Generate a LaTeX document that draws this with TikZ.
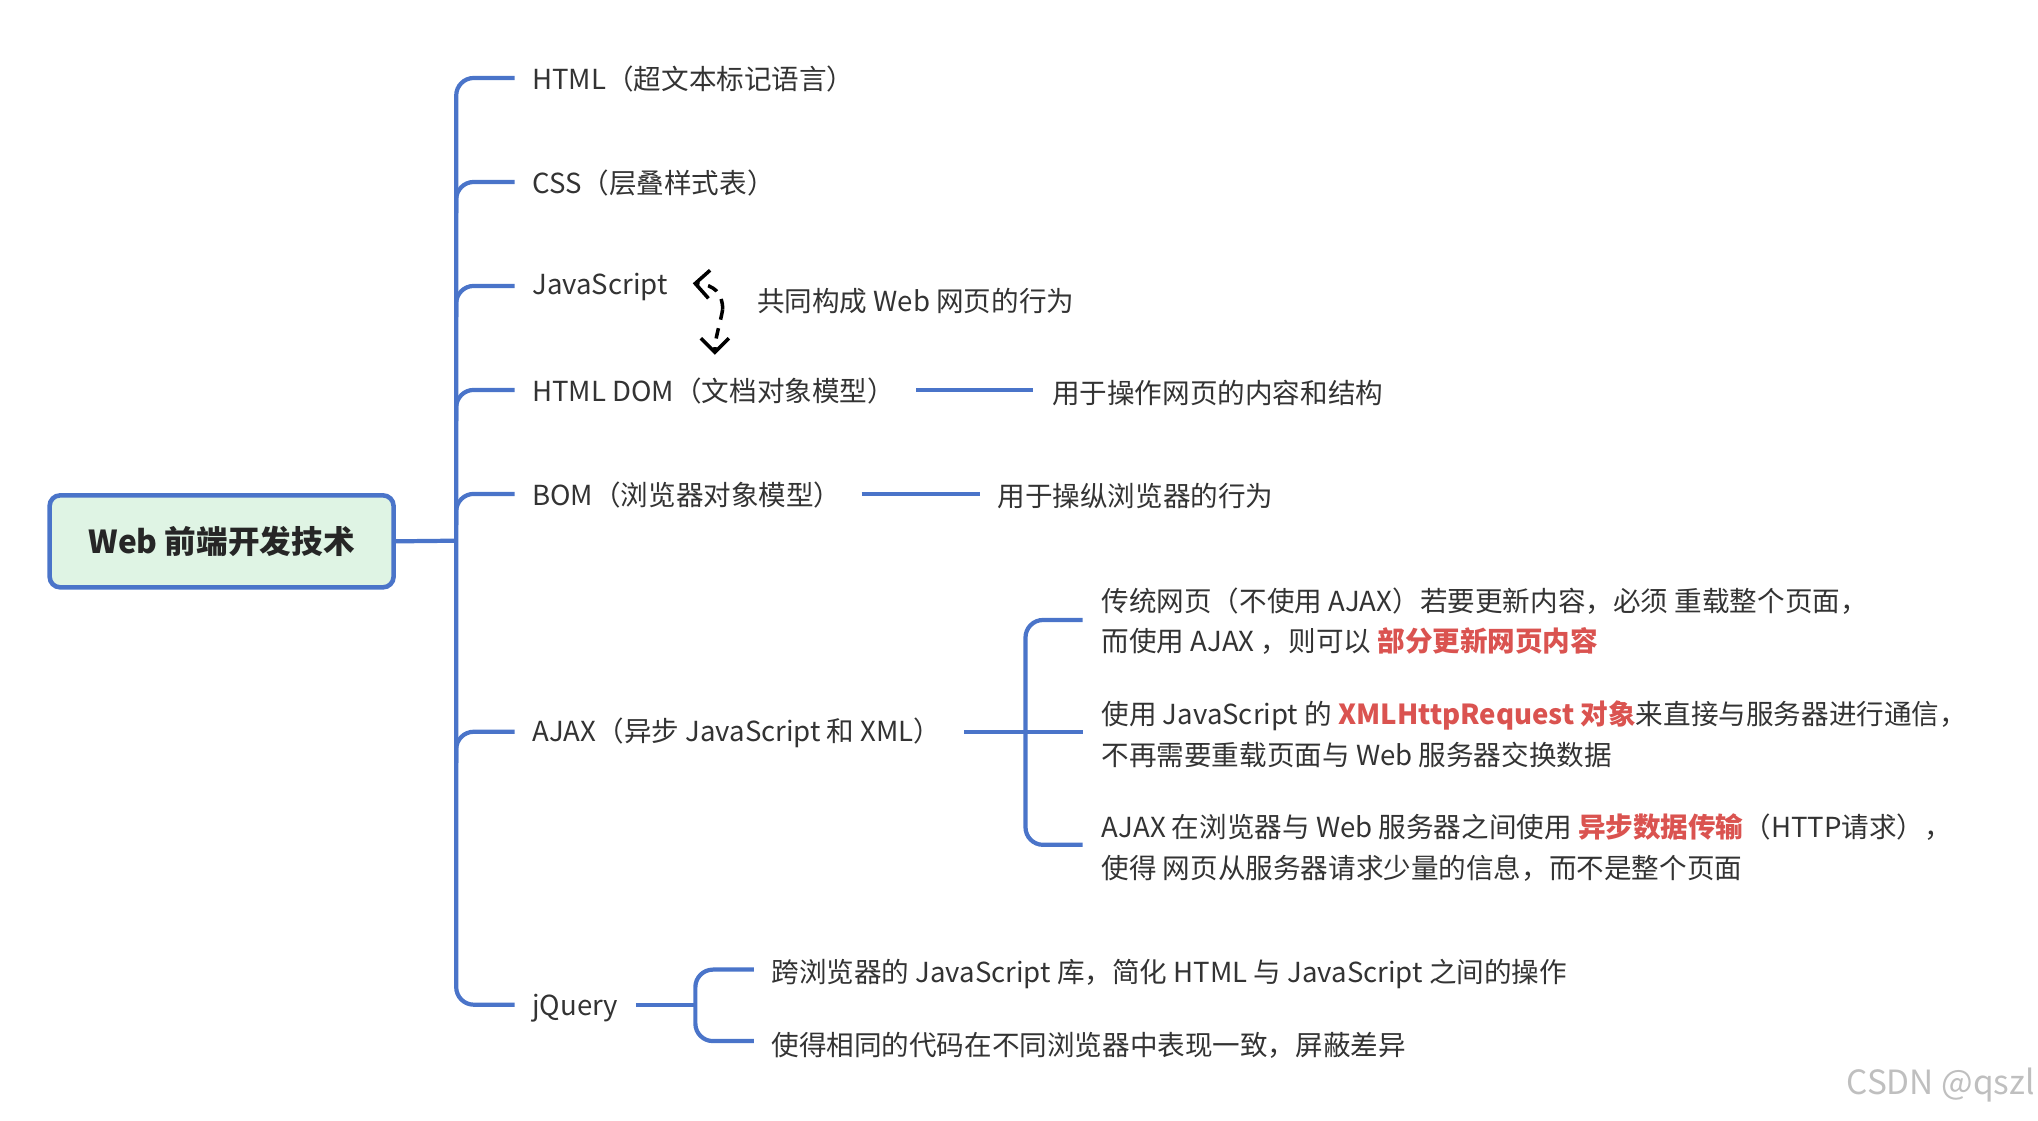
\documentclass[tikz,border=0pt]{standalone}
\usepackage{fontspec}
\setmainfont{Noto Sans CJK SC}
\usetikzlibrary{arrows.meta}
\definecolor{lb}{HTML}{4A74C9}
\definecolor{gf}{HTML}{DFF4E4}
\definecolor{tx}{HTML}{333333}
\definecolor{rd}{HTML}{DA5350}
\begin{document}
\begin{tikzpicture}[x=0.013cm,y=-0.013cm,
  ln/.style={draw=lb,line width=1.2pt},
  br/.style={ln,rounded corners=5pt},
  t/.style={anchor=west,inner sep=0pt,text=tx,font=\fontsize{7.85}{11.6}\selectfont,align=left},
  hi/.style={text=rd}]
\useasboundingbox (0,0) rectangle (1568,862);
\node[draw=lb,line width=1.3pt,fill=gf,rounded corners=3pt,minimum width=3.44cm,minimum height=0.92cm,text=black!85,font=\fontsize{9}{11}\selectfont\bfseries] (root) at (170.5,416.5) {Web 前端开发技术};
\coordinate (tr) at (351,416);
\draw[ln] (root.east) -- (tr);
% branches
\node[t] (html) at (409,61) {HTML（超文本标记语言）};
\node[t] (css) at (409,141) {CSS（层叠样式表）};
\node[t] (js) at (409,221) {JavaScript};
\node[t] (dom) at (409,301) {HTML DOM（文档对象模型）};
\node[t] (bom) at (409,381) {BOM（浏览器对象模型）};
\node[t] (ajax) at (409,564) {AJAX（异步 JavaScript 和 XML）};
\node[t] (jq) at (409,776) {jQuery};
\draw[br] ([xshift=-0.17cm]html.west|-0,60) -- (351,60) -- (351,773) -- ([xshift=-0.17cm]jq.west|-0,773);
\foreach \n/\y in {css/140,js/220,dom/300,bom/380,ajax/563}
  \draw[br] (351,\y+24) -- (351,\y) -- ([xshift=-0.17cm]\n.west|-0,\y);
% JS/DOM note
\node[t] (note) at (582,232) {共同构成 Web 网页的行为};
\coordinate (a0) at (556,238);
\coordinate (a1) at (533,218);
\coordinate (a2) at (550,273);
\draw[dash pattern=on 3pt off 2.5pt,line width=1pt,-{Straight Barb[length=4pt,width=8pt]}] (a0) .. controls (556,226) and (550,219) .. (a1);
\draw[dash pattern=on 3pt off 2.5pt,line width=1pt,-{Straight Barb[length=4pt,width=8pt]}] (a0) .. controls (554,250) and (550,260) .. (a2);
% DOM / BOM notes
\node[t] (domn) at (809,302) {用于操作网页的内容和结构};
\draw[ln] (705,300) -- (795,300);
\node[t] (bomn) at (767,382) {用于操纵浏览器的行为};
\draw[ln] (663,380) -- (754,380);
% AJAX
\node[t] (aj1) at (847,478) {传统网页（不使用 AJAX）若要更新内容，必须 重载整个页面，\\而使用 AJAX ，则可以 {\bfseries\color{rd}部分更新网页内容}};
\node[t] (aj2) at (847,565) {使用 JavaScript 的 {\bfseries\color{rd}XMLHttpRequest 对象}来直接与服务器进行通信，\\不再需要重载页面与 Web 服务器交换数据};
\node[t] (aj3) at (847,652) {AJAX 在浏览器与 Web 服务器之间使用 {\bfseries\color{rd}异步数据传输}（HTTP请求），\\使得 网页从服务器请求少量的信息，而不是整个页面};
\draw[ln] (742,563) -- (833,563);
\draw[br] (833,477) -- (789,477) -- (789,650) -- (833,650);
% jQuery
\node[t] (jq1) at (593,749) {跨浏览器的 JavaScript 库，简化 HTML 与 JavaScript 之间的操作};
\node[t] (jq2) at (593,804) {使得相同的代码在不同浏览器中表现一致，屏蔽差异};
\draw[ln] ([xshift=0.17cm]jq.east|-0,773) -- (535,773);
\draw[br] (580,746) -- (535,746) -- (535,801) -- (580,801);
% watermark
\node[anchor=east,inner sep=0pt,text=black!25,font=\fontsize{9.5}{11}\selectfont] (wm) at (1566,835) {CSDN @qszl};
\end{tikzpicture}
\end{document}
